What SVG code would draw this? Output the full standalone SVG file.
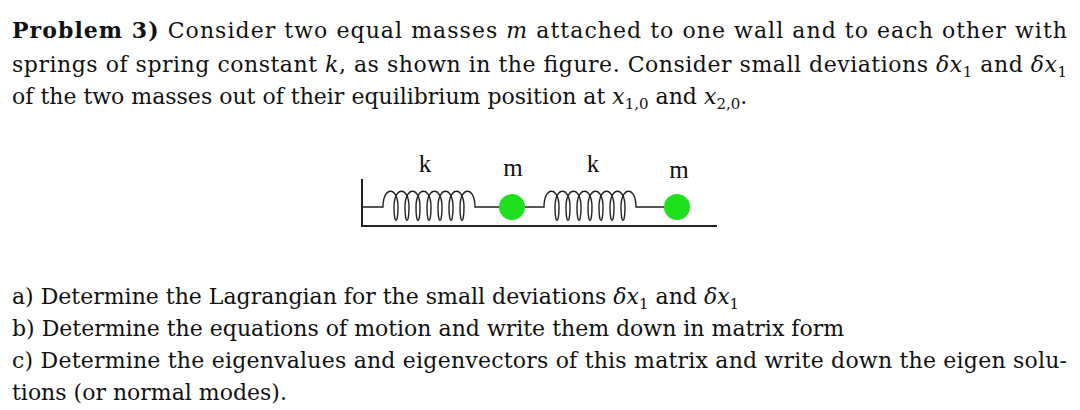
<svg xmlns="http://www.w3.org/2000/svg" width="1080" height="410" viewBox="0 0 1080 410">
<style>
text{font-family:"DejaVu Serif","Liberation Serif",serif;font-size:22px;fill:#111}
.i{font-style:italic}
.b{font-weight:bold}
.s{font-size:15px}
.lbl{font-family:"Liberation Serif",serif;font-size:25px;text-anchor:middle}
.ln{stroke:#222;stroke-width:2;fill:none}
.sp{stroke:#222;stroke-width:1.4;fill:none}
.mass{fill:#1ee01e}
</style>
<rect width="1080" height="410" fill="#fff"/>
<g id="text">
<text x="12" y="38" textLength="1055" lengthAdjust="spacing"><tspan class="b">Problem 3)</tspan>  Consider two equal masses <tspan class="i">m</tspan> attached to one wall and to each other with</text>
<text x="12" y="72" textLength="1055" lengthAdjust="spacing">springs of spring constant <tspan class="i">k</tspan>, as shown in the figure. Consider small deviations <tspan class="i">δx</tspan><tspan class="s" dy="5">1</tspan><tspan dy="-5"> and </tspan><tspan class="i">δx</tspan><tspan class="s" dy="5">1</tspan></text>
<text x="12" y="104">of the two masses out of their equilibrium position at <tspan class="i">x</tspan><tspan class="s" dy="5">1,0</tspan><tspan dy="-5"> and </tspan><tspan class="i">x</tspan><tspan class="s" dy="5">2,0</tspan><tspan dy="-5">.</tspan></text>
<text x="12" y="304">a) Determine the Lagrangian for the small deviations <tspan class="i">δx</tspan><tspan class="s" dy="5">1</tspan><tspan dy="-5"> and </tspan><tspan class="i">δx</tspan><tspan class="s" dy="5">1</tspan></text>
<text x="12" y="336">b) Determine the equations of motion and write them down in matrix form</text>
<text x="12" y="368" textLength="1055" lengthAdjust="spacing">c) Determine the eigenvalues and eigenvectors of this matrix and write down the eigen solu-</text>
<text x="12" y="400">tions (or normal modes).</text>
</g>
<g id="labels">
<text class="lbl" x="425" y="172">k</text>
<text class="lbl" x="513" y="176">m</text>
<text class="lbl" x="593" y="172">k</text>
<text class="lbl" x="679" y="178">m</text>
</g>
<g id="ground">
<path class="ln" d="M362,179 V226 H717"/>
</g>
<g id="connectors">
<path class="sp" d="M362,207 H383 c 0,-21 15,-21 15,0 c 0,18 -4,18 -4,0 c 0,-21 15,-21 15,0 c 0,18 -4,18 -4,0 c 0,-21 15,-21 15,0 c 0,18 -4,18 -4,0 c 0,-21 15,-21 15,0 c 0,18 -4,18 -4,0 c 0,-21 15,-21 15,0 c 0,18 -4,18 -4,0 c 0,-21 15,-21 15,0 c 0,18 -4,18 -4,0 c 0,-21 15,-21 15,0 c 0,18 -4,18 -4,0 c 0,-21 15,-21 15,0 l 3,0 H500"/>
<path class="sp" d="M525,207 H544 c 0,-21 15,-21 15,0 c 0,18 -4,18 -4,0 c 0,-21 15,-21 15,0 c 0,18 -4,18 -4,0 c 0,-21 15,-21 15,0 c 0,18 -4,18 -4,0 c 0,-21 15,-21 15,0 c 0,18 -4,18 -4,0 c 0,-21 15,-21 15,0 c 0,18 -4,18 -4,0 c 0,-21 15,-21 15,0 c 0,18 -4,18 -4,0 c 0,-21 15,-21 15,0 c 0,18 -4,18 -4,0 c 0,-21 15,-21 15,0 l 3,0 H664"/>
</g>
<g id="mass1"><circle class="mass" cx="512" cy="207" r="13"/></g>
<g id="mass2"><circle class="mass" cx="677" cy="207" r="13"/></g>
</svg>
